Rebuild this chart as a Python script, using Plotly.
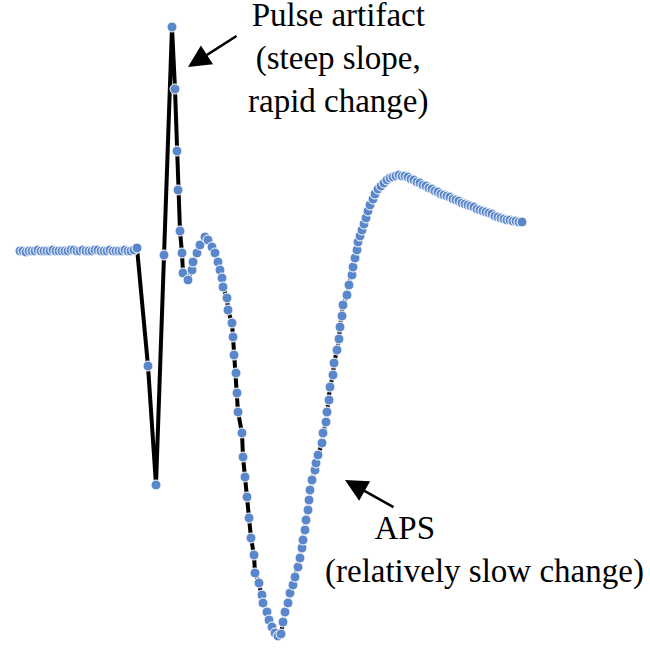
import plotly.graph_objects as go

# Time (arbitrary units) and amplitude (arbitrary units)
t = [20, 23, 26, 29, 32, 35, 38, 41, 44, 47, 50, 53, 56, 59, 62, 65, 68, 71, 74, 77,
     80, 83, 86, 89, 92, 95, 98, 101, 104, 107, 110, 113, 116, 119, 122, 125, 128, 131, 134, 137,
     148, 156, 164, 172, 175, 177, 178, 180, 182, 183,
     188, 192, 193, 197, 200, 205, 208, 212, 215, 218, 220, 222, 223, 227, 228, 232, 233, 234,
     236, 237, 238, 242, 243, 245, 247, 249, 251, 254, 255, 259, 262, 263, 267, 269, 272, 275,
     278, 281, 283, 285, 288, 290, 293, 295, 298, 300, 302, 303, 305, 306, 308, 309, 310, 312,
     315, 316, 318, 322, 323, 326, 327, 329, 330, 333, 334, 337, 339, 340, 342, 343, 347, 349,
     352, 353, 355, 357, 358, 360, 362, 364, 366, 368, 370, 373, 375, 378, 381, 384, 387, 390,
     393, 396, 399, 402, 405, 408, 411, 414, 417, 420, 423, 426, 429, 432, 435, 438, 441, 444,
     447, 450, 453, 456, 459, 462, 465, 468, 471, 474, 477, 480, 483, 486, 489, 492, 495, 498,
     501, 504, 507, 510, 513, 516, 519, 522]

amp = [-1, -1, -2, -1, -1, -1, 0, -1, -1, -1, -1, 0, -1, -1, -1, -1, -1, 0, 0, -1,
       -1, 0, -1, -1, -1, 0, 0, -1, -1, -1, 0, -1, -1, -1, -1, 0, -1, -1, 0, 2,
       -116, -235, -5, 223, 161, 99, 60, 19, -3, -23,
       -30, -20, -12, -3, 5, 13, 10, 3, -3, -12, -20, -28, -37, -48, -60, -73, -87, -105,
       -123, -143, -162, -183, -207, -227, -247, -268, -288, -305, -323, -333, -345, -353, -362, -370, -377, -383,
       -386, -384, -372, -362, -353, -343, -335, -327, -317, -308, -298, -290, -280, -270, -260, -250, -240, -230,
       -220, -213, -205, -193, -183, -172, -162, -150, -137, -125, -113, -100, -89, -77, -66, -55, -45, -35,
       -25, -17, -8, 0, 8, 14, 20, 26, 32, 39, 45, 51, 56, 61, 64, 67, 70, 72,
       73, 74, 75, 74, 74, 73, 71, 70, 68, 67, 65, 64, 62, 61, 59, 58, 56, 55,
       54, 53, 51, 50, 49, 47, 46, 45, 44, 43, 41, 40, 39, 38, 37, 36, 34, 33,
       32, 31, 30, 30, 29, 29, 28, 28]

pulse_label = "Pulse artifact<br>(steep slope,<br>rapid change)"
aps_label = "&nbsp;&nbsp;&nbsp;&nbsp;&nbsp;&nbsp;APS<br>(relatively slow change)"

FONT = "Liberation Serif"
FS = 33

fig = go.Figure()
fig.add_trace(go.Scatter(
    x=t, y=amp, mode="lines+markers",
    line=dict(color="black", width=4),
    marker=dict(size=10, color="#5A87CB", line=dict(color="white", width=1)),
    showlegend=False, hoverinfo="skip",
))

annotations = [
    dict(x=188, y=183, xref="x", yref="y", text="", showarrow=True,
         ax=50, ay=-32, arrowhead=2, arrowsize=1.8, arrowwidth=2.5,
         arrowcolor="black", standoff=0),
    dict(x=345, y=-230, xref="x", yref="y", text="", showarrow=True,
         ax=50, ay=28, arrowhead=2, arrowsize=1.8, arrowwidth=2.5,
         arrowcolor="black", standoff=0),
    dict(x=338, y=192, xref="x", yref="y", text=pulse_label, showarrow=False,
         xanchor="center", yanchor="middle", align="center",
         font=dict(family=FONT, size=FS, color="black")),
    dict(x=323, y=-300, xref="x", yref="y", text=aps_label, showarrow=False,
         xanchor="left", yanchor="middle", align="left",
         font=dict(family=FONT, size=FS, color="black")),
]

fig.update_layout(
    width=650, height=655,
    margin=dict(l=0, r=0, t=0, b=0),
    paper_bgcolor="white", plot_bgcolor="white",
    xaxis=dict(range=[0, 650], visible=False, fixedrange=True),
    yaxis=dict(range=[-405, 250], visible=False, fixedrange=True),
    annotations=annotations,
)

fig.write_html("out.html", config={"displayModeBar": False},
               post_script="document.body.style.margin='0';")
